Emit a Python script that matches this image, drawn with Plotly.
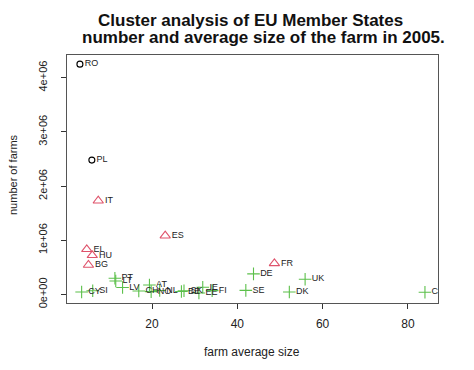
import plotly.graph_objects as go

# Cluster 1 (black circles)
c1_names = ["RO", "PL"]
c1_size = [3.1, 5.9]
c1_farms = [4250000, 2480000]

# Cluster 2 (red triangles)
c2_names = ["IT", "ES", "EL", "HU", "BG", "FR"]
c2_size = [7.4, 23.1, 4.7, 6.0, 5.1, 48.7]
c2_farms = [1730000, 1085000, 834000, 723000, 544000, 575000]

# Cluster 3 (green crosses)
c3_names = ["PT", "LT", "CY", "SI", "LV", "CH", "AT", "NO", "NL", "BE", "SK",
            "EE", "IE", "FI", "SE", "DE", "UK", "DK", "CZ"]
c3_size = [11.3, 11.5, 3.5, 6.1, 13.1, 16.9, 19.4, 19.8, 21.8, 26.9, 27.5,
           31.0, 31.9, 34.1, 42.0, 43.8, 55.9, 52.2, 84.0]
c3_farms = [300000, 250000, 45000, 70000, 130000, 64000, 175000, 53000, 75000, 55000, 68000,
            28000, 133000, 71000, 76000, 380000, 282000, 45000, 42000]

x_ticks = [20, 40, 60, 80]
y_ticks = [0, 1000000, 2000000, 3000000, 4000000]
y_ticklabels = ["0e+00", "1e+06", "2e+06", "3e+06", "4e+06"]

FONT = "Liberation Sans, Arial"
lab_font = dict(family=FONT, size=9, color="#222")

W, H = 474, 370
L, R, T, B = 67, 36, 55, 67

fig = go.Figure()
fig.add_trace(go.Scatter(
    x=c1_size, y=c1_farms, text=c1_names, mode="markers+text",
    textposition="middle right", textfont=lab_font,
    marker=dict(symbol="circle-open", size=6, color="black", line=dict(width=1.1)),
))
fig.add_trace(go.Scatter(
    x=c2_size, y=c2_farms, text=c2_names, mode="markers+text",
    textposition="middle right", textfont=lab_font,
    marker=dict(symbol="triangle-up-open", size=9, color="#DF536B", line=dict(width=1.1)),
))
fig.add_trace(go.Scatter(
    x=c3_size, y=c3_farms, text=c3_names, mode="markers+text",
    textposition="middle right", textfont=lab_font,
    marker=dict(symbol="cross-thin-open", size=9, color="#5CC04B", line=dict(width=1.1, color="#5CC04B")),
))

fig.update_layout(
    width=W, height=H,
    margin=dict(l=L, r=R, t=T, b=B, autoexpand=False),
    paper_bgcolor="white", plot_bgcolor="white",
    showlegend=False,
    font=dict(family=FONT, color="#222"),
    xaxis=dict(
        range=[0.07, 87.06], tickvals=x_ticks, ticks="outside", ticklen=5,
        tickcolor="#333", showgrid=False, zeroline=False, automargin=False,
        showline=True, mirror=True, linecolor="#555", linewidth=1,
        tickfont=dict(size=12, color="#222"), ticklabelstandoff=5,
    ),
    yaxis=dict(
        range=[-157000, 4419000], tickvals=y_ticks, ticktext=y_ticklabels,
        ticks="outside", ticklen=5, tickcolor="#333", tickangle=-90,
        showgrid=False, zeroline=False, automargin=False,
        showline=True, mirror=True, linecolor="#555", linewidth=1,
        tickfont=dict(size=11, color="#222"), ticklabelstandoff=10,
    ),
)

pw, ph = W - L - R, H - T - B
def px(x):
    return (x - L) / pw
def py(y):
    return (H - B - y) / ph

def ann(text, x, y, size, color="#222", angle=0):
    fig.add_annotation(text=text, x=px(x), y=py(y), xref="paper", yref="paper",
                       xanchor="center", yanchor="middle", showarrow=False,
                       textangle=angle, font=dict(size=size, color=color, family=FONT))

ann("<b>Cluster analysis of EU Member States</b>", 250, 20, 17, "#111")
ann("<b>number and average size of the farm in 2005.</b>", 263, 38, 17, "#111")
ann("farm average size", 252, 352, 12)
ann("number of farms", 13, 174, 11, angle=-90)

fig.write_html("out.html", config={"displayModeBar": False},
               post_script="document.body.style.margin='0';document.body.style.padding='0';")
